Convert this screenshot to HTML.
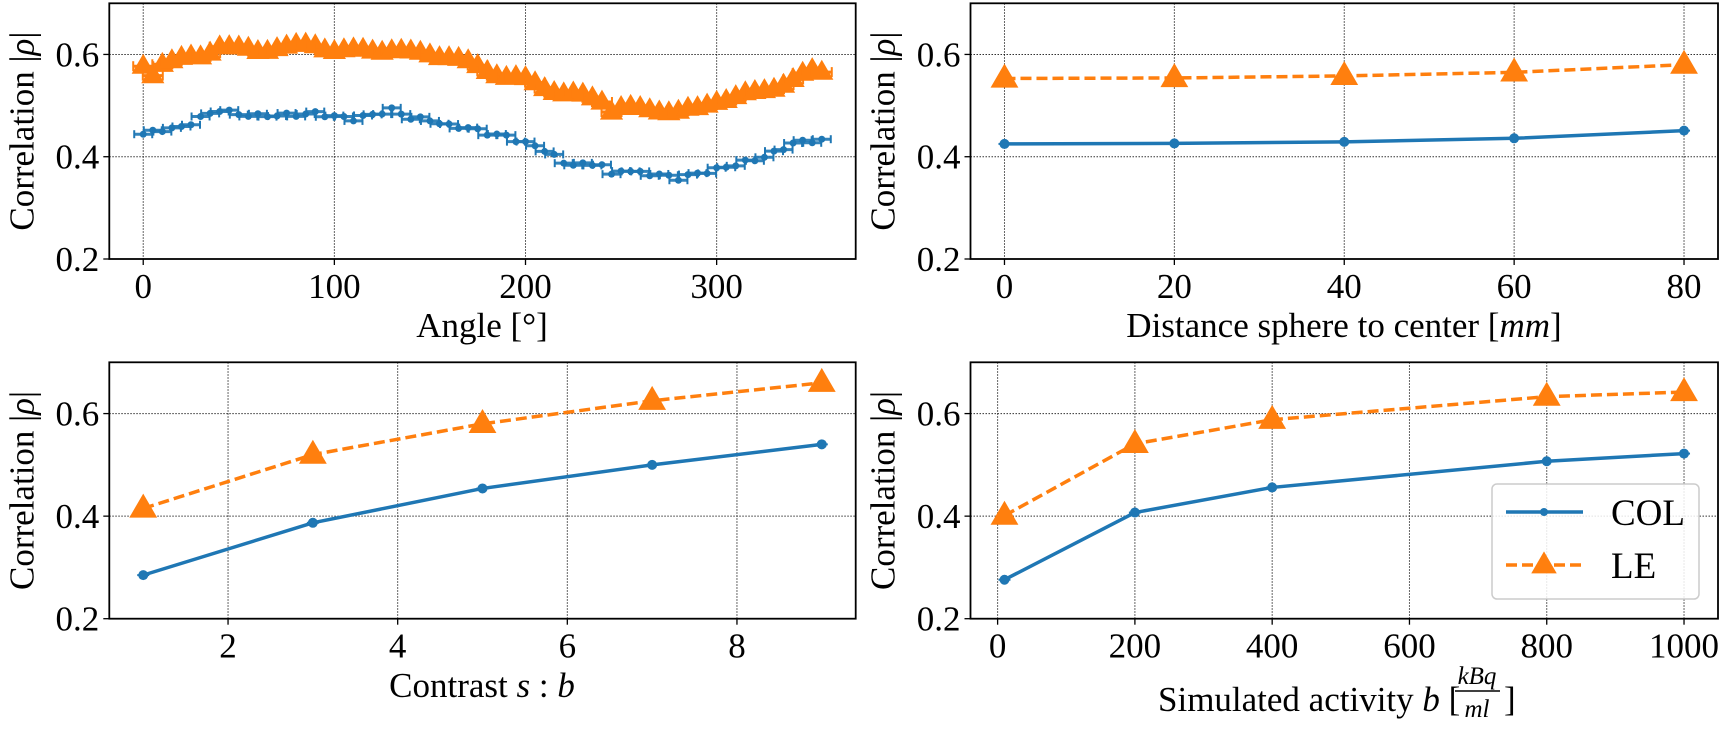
<!DOCTYPE html>
<html><head><meta charset="utf-8"><style>
html,body{margin:0;padding:0;background:#fff;}
svg, svg text{font-family:"Liberation Serif","Times New Roman","DejaVu Serif",serif;}
svg text{fill:#000;}
</style></head><body>
<svg id="s" width="1720" height="727" font-family="Liberation Serif, Times New Roman, DejaVu Serif, serif" xmlns="http://www.w3.org/2000/svg"></svg>
<script>
const S=document.getElementById('s');let h='';
const B='#1f77b4',O='#ff7f0e';
const FF='font-family="Liberation Serif, DejaVu Serif, serif"';
function panel(L,R,T,Bt,x0,x1,xt,cb){
 const fx=v=>L+(v-x0)/(x1-x0)*(R-L), fy=v=>Bt-(v-0.2)/0.5*(Bt-T);
 xt.forEach(t=>{const x=fx(t);h+=`<line x1="${x}" y1="${T}" x2="${x}" y2="${Bt}" stroke="#000" stroke-width="1" stroke-dasharray="1.5,1.5" opacity="0.8"/>`;
  h+=`<line x1="${x}" y1="${Bt}" x2="${x}" y2="${Bt+6}" stroke="#000" stroke-width="1.3"/>`;
  h+=`<text ${FF} x="${x}" y="${Bt+39}" font-size="35" text-anchor="middle">${t}</text>`;});
 [0.2,0.4,0.6].forEach(v=>{const y=fy(v);h+=`<line x1="${L}" y1="${y}" x2="${R}" y2="${y}" stroke="#000" stroke-width="1" stroke-dasharray="1.5,1.5" opacity="0.8"/>`;
  h+=`<line x1="${L-6}" y1="${y}" x2="${L}" y2="${y}" stroke="#000" stroke-width="1.3"/>`;
  h+=`<text ${FF} x="${L-10}" y="${y+12}" font-size="35" text-anchor="end">${v.toFixed(1)}</text>`;});
 cb(fx,fy);
 h+=`<rect x="${L}" y="${T}" width="${R-L}" height="${Bt-T}" fill="none" stroke="#000" stroke-width="1.8"/>`;
 const cy=(T+Bt)/2, lx=L-76;
 h+=`<text ${FF} transform="translate(${lx},${cy}) rotate(-90)" font-size="35" text-anchor="middle">Correlation |<tspan font-style="italic">ρ</tspan>|</text>`;
}
function tri(x,y,s,c){return `<polygon points="${x},${y-s*0.62} ${x-s*0.58},${y+s*0.38} ${x+s*0.58},${y+s*0.38}" fill="${c}"/>`;}
function series(fx,fy,xs,ys,c,dash,tri_){
 let p=xs.map((x,i)=>`${fx(x)},${fy(ys[i])}`).join(' ');
 h+=`<polyline points="${p}" fill="none" stroke="${c}" stroke-width="3.5" ${dash?'stroke-dasharray="11,5"':''}/>`;
 xs.forEach((x,i)=>{const X=fx(x),Y=fy(ys[i]);
  h+=`<line x1="${X-6}" y1="${Y}" x2="${X+6}" y2="${Y}" stroke="${c}" stroke-width="2"/>`;
  h+= tri_?tri(X,Y,24,c):`<circle cx="${X}" cy="${Y}" r="5" fill="${c}"/>`;});
}
const bc=[[0,.444],[10,.453],[20,.457],[30,.476],[40,.492],[50,.483],[60,.48],[80,.482],[90,.485],[100,.479],[110,.474],[120,.482],[130,.492],[140,.476],[150,.472],[160,.46],[170,.457],[180,.446],[190,.44],[200,.427],[210,.414],[220,.388],[230,.384],[240,.386],[245,.362],[250,.375],[260,.368],[270,.365],[280,.358],[290,.367],[300,.375],[310,.385],[320,.394],[330,.407],[340,.427],[355,.433]];
const oc=[[0,.577],[5,.563],[10,.585],[20,.59],[30,.596],[40,.619],[50,.61],[60,.607],[70,.615],[80,.615],[90,.619],[100,.609],[110,.606],[120,.609],[130,.61],[140,.602],[150,.602],[160,.596],[170,.583],[180,.57],[190,.557],[200,.55],[210,.537],[220,.524],[230,.518],[240,.511],[245,.492],[250,.497],[260,.492],[270,.492],[280,.489],[290,.492],[300,.511],[310,.517],[320,.524],[330,.537],[340,.55],[350,.567],[355,.567]];
function interp(c,x){for(let i=0;i<c.length-1;i++){if(x>=c[i][0]&&x<=c[i+1][0]){const t=(x-c[i][0])/(c[i+1][0]-c[i][0]);return c[i][1]+t*(c[i+1][1]-c[i][1]);}}return c[c.length-1][1];}
panel(109.3,855.7,3.3,259,-17.75,372.75,[0,100,200,300],(fx,fy)=>{
 for(let a=0;a<360;a+=5){const X=fx(a),Y=fy(interp(bc,a)+0.004*Math.sin(a*1.7));
  h+=`<line x1="${X-9}" y1="${Y}" x2="${X+9}" y2="${Y}" stroke="${B}" stroke-width="3" opacity="0.9"/><line x1="${X-9}" y1="${Y-4}" x2="${X-9}" y2="${Y+4}" stroke="${B}" stroke-width="2"/><line x1="${X+9}" y1="${Y-4}" x2="${X+9}" y2="${Y+4}" stroke="${B}" stroke-width="2"/><circle cx="${X}" cy="${Y}" r="3.5" fill="${B}"/>`;}
 for(let a=0;a<360;a+=5){const X=fx(a),Y=fy(interp(oc,a)+0.005*Math.sin(a*2.3));
  h+=`<line x1="${X-10}" y1="${Y}" x2="${X+10}" y2="${Y}" stroke="${O}" stroke-width="3"/><line x1="${X-10}" y1="${Y-5}" x2="${X-10}" y2="${Y+5}" stroke="${O}" stroke-width="2"/><line x1="${X+10}" y1="${Y-5}" x2="${X+10}" y2="${Y+5}" stroke="${O}" stroke-width="2"/>`+tri(X,Y,20,O);}
});
h+=`<text ${FF} x="482" y="337" font-size="35" text-anchor="middle">Angle [°]</text>`;
panel(970.5,1718,3.3,259,-4,84,[0,20,40,60,80],(fx,fy)=>{
 series(fx,fy,[0,20,40,60,80],[.425,.426,.429,.436,.451],B,false,false);
 series(fx,fy,[0,20,40,60,80],[.553,.554,.558,.565,.58],O,true,true);
});
h+=`<text ${FF} x="1344" y="337" font-size="35" text-anchor="middle">Distance sphere to center [<tspan font-style="italic">mm</tspan>]</text>`;
panel(109.3,855.7,362.3,618.7,0.6,9.4,[2,4,6,8],(fx,fy)=>{
 series(fx,fy,[1,3,5,7,9],[.285,.387,.454,.50,.54],B,false,false);
 series(fx,fy,[1,3,5,7,9],[.415,.52,.58,.625,.66],O,true,true);
});
h+=`<text ${FF} x="482" y="697" font-size="35" text-anchor="middle">Contrast <tspan font-style="italic">s</tspan> : <tspan font-style="italic">b</tspan></text>`;
panel(970.5,1718,362.3,618.7,-39.5,1049.5,[0,200,400,600,800,1000],(fx,fy)=>{
 series(fx,fy,[10,200,400,800,1000],[.276,.407,.456,.507,.522],B,false,false);
 series(fx,fy,[10,200,400,800,1000],[.401,.541,.588,.633,.642],O,true,true);
});
h+=`<text ${FF} x="1158" y="711" font-size="35">Simulated activity <tspan font-style="italic">b</tspan> [</text>`;
h+=`<text ${FF} x="1477" y="684" font-size="25" font-style="italic" text-anchor="middle">kBq</text><line x1="1455" y1="691" x2="1500" y2="691" stroke="#000" stroke-width="1.5"/><text ${FF} x="1477" y="717" font-size="25" font-style="italic" text-anchor="middle">ml</text><text ${FF} x="1504" y="711" font-size="35">]</text>`;
h+=`<rect x="1492" y="484" width="207" height="115" rx="5" fill="#fff" fill-opacity="0.85" stroke="#ccc" stroke-width="1.5"/>`;
h+=`<line x1="1506" y1="512" x2="1583" y2="512" stroke="${B}" stroke-width="3.5"/><circle cx="1544" cy="512" r="4" fill="${B}"/><text ${FF} x="1611" y="525" font-size="37">COL</text>`;
h+=`<line x1="1506" y1="565" x2="1583" y2="565" stroke="${O}" stroke-width="3.5" stroke-dasharray="11,5"/>`+tri(1544,565,22,O)+`<text ${FF} x="1611" y="578" font-size="37">LE</text>`;
S.innerHTML=h;
</script>
</body></html>
